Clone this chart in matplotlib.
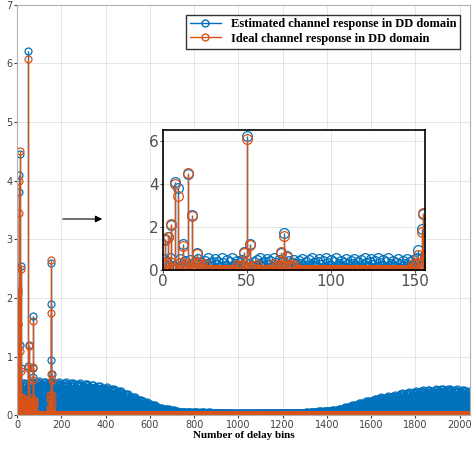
import numpy as np
import matplotlib.pyplot as plt
from matplotlib.lines import Line2D

N_BINS = 2048
BLUE = "#0072BD"
ORANGE = "#D95319"

# dominant taps: delay index, estimated, ideal
peak_idx = [1, 3, 5, 7, 9, 12, 15, 17, 20, 48, 50, 52, 70, 72, 74, 152, 154, 155, 156]
peak_est = [1.45, 1.55, 2.1, 4.1, 3.8, 1.2, 4.45, 2.55, 0.8, 0.85, 6.2, 1.2, 0.8, 1.7, 0.65, 0.95, 1.9, 2.6, 0.7]
peak_ideal = [1.4, 1.55, 2.15, 4.0, 3.45, 1.1, 4.5, 2.5, 0.75, 0.8, 6.08, 1.18, 0.82, 1.6, 0.6, 0.7, 1.75, 2.65, 0.6]

# envelope of the estimation noise floor
env_x = [0, 100, 300, 450, 550, 650, 750, 1000, 1300, 1450, 1600, 1800, 1950, 2047]
env_y = [0.55, 0.58, 0.55, 0.45, 0.28, 0.13, 0.06, 0.04, 0.05, 0.1, 0.27, 0.42, 0.46, 0.42]
# repeating spread pattern of noise taps
spread = [0.9, 0.4, 0.7, 0.2, 1.0, 0.55, 0.3, 0.8, 0.15, 0.65, 0.95, 0.35, 0.5, 0.75, 0.25, 0.6,
          0.85, 0.45, 0.1, 0.7, 0.5, 0.92, 0.3, 0.62, 0.2, 0.78, 0.4, 0.98, 0.55, 0.33, 0.68]
# ideal small taps around the clusters: start, end, level
cluster_spans = [(0, 25, 0.35), (44, 56, 0.3), (66, 78, 0.3), (148, 160, 0.35)]

bins = np.arange(N_BINS)
est = np.interp(bins, env_x, env_y) * np.array([spread[i % len(spread)] for i in bins])
ideal = np.zeros(N_BINS)
for s, e, lv in cluster_spans:
    for i in range(s, e + 1):
        ideal[i] = lv * spread[i % len(spread)]
        est[i] = max(est[i], ideal[i])
for i, a, b in zip(peak_idx, peak_est, peak_ideal):
    est[i] = a
    ideal[i] = b


def stems(ax, x, y, color, ms):
    ml, sl, bl = ax.stem(x, y, basefmt=" ")
    plt.setp(sl, color=color, linewidth=1.0)
    plt.setp(ml, color=color, marker="o", markerfacecolor="none", markersize=ms, markeredgewidth=0.9)


fig = plt.figure(figsize=(4.74, 4.54), dpi=100)
ax = fig.add_axes([0.036, 0.085, 0.956, 0.905])
stems(ax, bins, est, BLUE, 5)
stems(ax, bins, ideal, ORANGE, 5)
ax.set_xlim(0, N_BINS)
ax.set_ylim(0, 7)
ax.set_xticks(range(0, 2001, 200))
ax.set_yticks(range(0, 8))
ax.tick_params(labelsize=7, colors="#404040", length=2, pad=1)
ax.grid(True, color="#e0e0e0", linewidth=0.6)
for sp in ax.spines.values():
    sp.set_color("#b0b0b0")
ax.set_xlabel("Number of delay bins", fontsize=8, fontweight="bold", family="Liberation Serif", labelpad=1)
handles = [Line2D([], [], color=BLUE, marker="o", markerfacecolor="none", markersize=5, lw=1),
           Line2D([], [], color=ORANGE, marker="o", markerfacecolor="none", markersize=5, lw=1)]
ax.legend(handles, ["Estimated channel response in DD domain", "Ideal channel response in DD domain"],
          loc="upper right", prop={"family": "Liberation Serif", "weight": "bold", "size": 9},
          fancybox=False, edgecolor="black", borderaxespad=0.8, handlelength=2.5,
          borderpad=0.3, labelspacing=0.2)

ax.annotate("", xy=(105, 235), xytext=(60, 235), xycoords="figure pixels",
            arrowprops=dict(arrowstyle="-|>", color="black", lw=0.8))

# inset zoom on first 155 bins
ins = fig.add_axes([163 / 474, 1 - 270 / 454, 262 / 474, 140 / 454])
sel = bins <= 156
stems(ins, bins[sel], est[sel], BLUE, 7)
stems(ins, bins[sel], ideal[sel], ORANGE, 7)
ins.set_xlim(0, 156)
ins.set_ylim(0, 6.5)
ins.set_xticks([0, 50, 100, 150])
ins.set_yticks([0, 2, 4, 6])
ins.tick_params(labelsize=11, colors="#505050", length=2, pad=1)
ins.grid(True, color="#e0e0e0", linewidth=0.6)
for sp in ins.spines.values():
    sp.set_color("black")
    sp.set_linewidth(1.2)

fig.savefig("out.png", dpi=100)
